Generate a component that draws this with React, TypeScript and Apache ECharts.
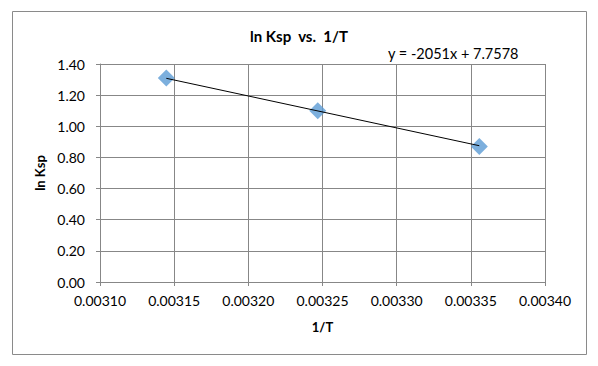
import React, { useEffect, useRef } from "react";
import * as echarts from "echarts";

const invT: number[] = [0.0031447, 0.0032468, 0.0033557];
const lnKsp: number[] = [1.31, 1.1, 0.87];
const trendSlope: number[] = [-2051];
const trendIntercept: number[] = [7.7578];
const equationLabel = "y = -2051x + 7.7578";
const titleText = "ln Ksp  vs.  1/T";
const xName = "1/T";
const yName = "ln Ksp";

const FONT = "Lato, 'Noto Sans', sans-serif";

export default function App() {
  const ref = useRef<HTMLDivElement>(null);
  useEffect(() => {
    if (!ref.current) return;
    const chart = echarts.init(ref.current, undefined, { renderer: "svg" });
    const xs = [invT[0], invT[invT.length - 1]];
    const trend = xs.map((x) => [x, trendSlope[0] * x + trendIntercept[0]]);
    chart.setOption({
      animation: false,
      backgroundColor: "#ffffff",
      textStyle: { fontFamily: FONT },
      title: {
        text: titleText,
        left: "center",
        top: 23,
        textStyle: { fontFamily: FONT, fontSize: 15, fontWeight: "bold", color: "#000" },
      },
      graphic: [
        {
          type: "rect",
          shape: { x: 12.5, y: 11.5, width: 574, height: 343 },
          style: { fill: "none", stroke: "#8a8a8a", lineWidth: 1 },
          silent: true,
        },
        {
          type: "text",
          x: 388,
          y: 46,
          style: { text: equationLabel, fontFamily: FONT, fontSize: 14.5, fill: "#000" },
        },
      ],
      grid: { left: 100, top: 64, right: 53, bottom: 84 },
      xAxis: {
        type: "value",
        min: 0.0031,
        max: 0.0034,
        interval: 0.00005,
        name: xName,
        nameLocation: "middle",
        nameGap: 38,
        nameTextStyle: { fontFamily: FONT, fontSize: 13, fontWeight: "bold", color: "#000" },
        axisLine: { show: true, lineStyle: { color: "#878787" } },
        axisTick: { show: true, length: 4, lineStyle: { color: "#878787" } },
        axisLabel: {
          color: "#000",
          fontSize: 14,
          fontFamily: FONT,
          margin: 11,
          formatter: (v: number) => v.toFixed(5),
        },
        splitLine: { show: true, lineStyle: { color: "#878787" } },
      },
      yAxis: {
        type: "value",
        min: 0,
        max: 1.4,
        interval: 0.2,
        name: yName,
        nameLocation: "middle",
        nameGap: 51,
        nameRotate: 90,
        nameTextStyle: { fontFamily: FONT, fontSize: 13, fontWeight: "bold", color: "#000" },
        axisLine: { show: true, lineStyle: { color: "#878787" } },
        axisTick: { show: true, length: 4, lineStyle: { color: "#878787" } },
        axisLabel: {
          color: "#000",
          fontSize: 14,
          fontFamily: FONT,
          margin: 15,
          formatter: (v: number) => v.toFixed(2),
        },
        splitLine: { show: true, lineStyle: { color: "#878787" } },
      },
      series: [
        {
          type: "line",
          data: trend,
          symbol: "none",
          lineStyle: { color: "#000", width: 1 },
          z: 3,
        },
        {
          type: "scatter",
          data: invT.map((x, i) => [x, lnKsp[i]]),
          symbol: "diamond",
          symbolSize: [17, 17],
          itemStyle: { color: "#5b9bd5" },
          z: 2,
        },
      ],
    });
    return () => chart.dispose();
  }, []);
  return (
    <div
      ref={ref}
      style={{ position: "fixed", left: 0, top: 0, width: 598, height: 366 }}
    />
  );
}
